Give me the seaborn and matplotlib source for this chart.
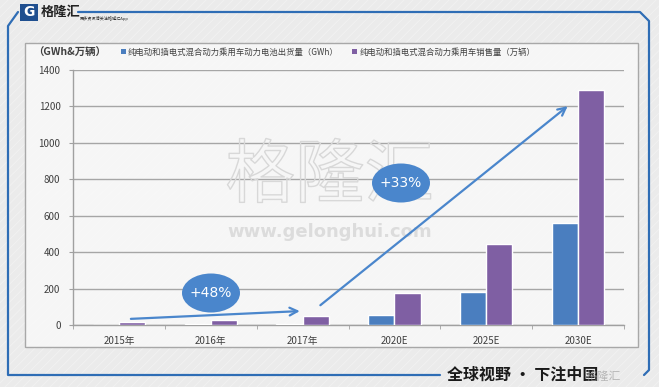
import numpy as np
import pandas as pd
import matplotlib.pyplot as plt
import seaborn as sns
from matplotlib.patches import Ellipse, Rectangle, Patch, FancyBboxPatch
from matplotlib.lines import Line2D
import matplotlib.patheffects as pe

# chart data
years = ['2015年', '2016年', '2017年', '2020E', '2025E', '2030E']
battery_gwh = [2, 4, 7, 55, 181, 560]
sales_wan = [18, 28, 52, 175, 442, 1292]
series_names = ['纯电动和插电式混合动力乘用车动力电池出货量（GWh）',
                '纯电动和插电式混合动力乘用车销售量（万辆）']
bar_colors = ['#4A7EBF', '#7F5FA3']
y_ticks = [0, 200, 400, 600, 800, 1000, 1200, 1400]

df = pd.DataFrame({
    'year': years * 2,
    'value': battery_gwh + sales_wan,
    'series': [series_names[0]] * len(years) + [series_names[1]] * len(years),
})

sns.set_style('white')
plt.rcParams['font.family'] = ['Noto Sans CJK SC', 'DejaVu Sans']

W, H = 659, 387
fig = plt.figure(figsize=(W / 100, H / 100), dpi=100)
fig.patch.set_facecolor('#ebebeb')


def px(x, y):
    # figure pixel -> figure fraction
    return (x / W, 1 - y / H)


# faint diagonal streaks in the background
for k in np.arange(-400, 700, 9):
    fig.add_artist(Line2D([k / W, (k + 390) / W], [0, 1], color='white',
                          lw=0.6, alpha=0.35, transform=fig.transFigure, zorder=0))

# inner chart box
x0, y0 = px(25, 347)
fig.add_artist(Rectangle((x0, y0), (638 - 25) / W, (347 - 43) / H,
                         transform=fig.transFigure, facecolor='#f8f8f8',
                         edgecolor='#a0a0a0', lw=1, alpha=0.9, zorder=1))

# outer blue frame
blue = '#2f6db5'
fx = [18, 8, 8, 440]
fy = [12, 26, 375, 375]
fig.add_artist(Line2D([x / W for x in fx], [1 - y / H for y in fy], color=blue,
                      lw=1.6, transform=fig.transFigure, zorder=2))
tx = [78, 640, 649, 649, 644]
ty = [12, 12, 21, 370, 375]
fig.add_artist(Line2D([x / W for x in tx], [1 - y / H for y in ty], color=blue,
                      lw=1.6, transform=fig.transFigure, zorder=2))

# logo
lx, ly = px(20, 21)
fig.add_artist(FancyBboxPatch((lx, ly), 18 / W, 17 / H, boxstyle='square,pad=0',
                              transform=fig.transFigure, facecolor='#1f4f8f',
                              edgecolor='none', zorder=3))
fig.text(*px(29, 12), 'G', color='white', fontsize=10, fontweight='bold',
         ha='center', va='center', family='DejaVu Sans', zorder=4)
fig.text(*px(41, 12), '格隆汇', color='#222222', fontsize=9.5, fontweight='bold',
         ha='left', va='center', zorder=4)
fig.text(*px(80, 18), '更多资讯请关注格隆汇App', color='#333333', fontsize=3,
         ha='left', va='center', zorder=4)

# footer
fig.text(*px(523, 375), '全球视野 · 下注中国', color='#1a1a1a', fontsize=11.5,
         fontweight='bold', ha='center', va='center', zorder=4)
fig.text(*px(603, 376), '格隆汇', color='#a0a0a0', fontsize=8.5, alpha=0.7,
         ha='center', va='center', zorder=5)

# plot axes
al, ar, at, ab = 73, 624, 70, 325
ax = fig.add_axes([al / W, 1 - ab / H, (ar - al) / W, (ab - at) / H])
ax.set_facecolor('none')
ax.set_zorder(3)

sns.barplot(data=df, x='year', y='value', hue='series', palette=bar_colors,
            width=0.57, saturation=1, legend=False, ax=ax, zorder=3)

ax.set_ylim(0, 1400)
ax.set_xlim(-0.5, len(years) - 0.5)
ax.set_yticks(y_ticks)
ax.yaxis.grid(True, color='#a6a6a6', lw=1)
ax.set_axisbelow(True)
ax.set_xlabel('')
ax.set_ylabel('')
for s in ['top', 'right']:
    ax.spines[s].set_visible(False)
for s in ['left', 'bottom']:
    ax.spines[s].set_color('#a0a0a0')
    ax.spines[s].set_linewidth(1)
ax.tick_params(axis='y', length=3, color='#a0a0a0', labelsize=7, labelcolor='#404040', pad=6, left=True)
ax.set_xticks(range(len(years)))
ax.set_xticklabels(years)
ax.tick_params(axis='x', length=0, labelsize=7, labelcolor='#404040', pad=8)
ax.set_xticks(np.arange(-0.5, len(years)), minor=True)
ax.tick_params(axis='x', which='minor', length=3, color='#a0a0a0', bottom=True)

# watermark
ax.text(0.466, 0.58, '格隆汇', transform=ax.transAxes, fontsize=50, ha='center',
        va='center', color=(1, 1, 1, 0), fontweight='light', zorder=1,
        path_effects=[pe.withStroke(linewidth=1.0, foreground='#d8d8d8')])
ax.text(0.466, 0.365, 'www.gelonghui.com', transform=ax.transAxes, fontsize=13,
        ha='center', va='center', color='#dcdcdc', fontweight='bold',
        family='DejaVu Sans', zorder=1)

# growth arrows
arrow_kw = dict(arrowstyle='->', color='#4a86cc', lw=1.6, mutation_scale=14)
ax.annotate('', xy=(2.0, 77), xytext=(0.1, 33), arrowprops=arrow_kw, zorder=5)
ax.annotate('', xy=(4.91, 1211), xytext=(2.17, 99), arrowprops=arrow_kw, zorder=5)

# growth labels in ellipses
for (cx, cy), label in [((211, 293), '+48%'), ((401, 183), '+33%')]:
    ex, ey = px(cx, cy)
    fig.add_artist(Ellipse((ex, ey), 58 / W, 39 / H, transform=fig.transFigure,
                           facecolor='#4a86cc', edgecolor='none', zorder=6))
    fig.text(ex, ey, label, color='white', fontsize=10, ha='center', va='center',
             family='DejaVu Sans', zorder=7)

# unit label and legend
fig.text(*px(33, 53), '（GWh&万辆）', color='#404040', fontsize=7.5,
         fontweight='bold', ha='left', va='center', zorder=4)
handles = [Patch(facecolor=c, edgecolor='none') for c in bar_colors]
fig.legend(handles, series_names, loc='center left', bbox_to_anchor=px(113, 52),
           ncol=2, frameon=False, fontsize=6, handlelength=0.6, handleheight=0.6,
           handletextpad=0.3, columnspacing=1.6, labelcolor='#404040')

fig.savefig('out.png', dpi=100, facecolor=fig.get_facecolor())
